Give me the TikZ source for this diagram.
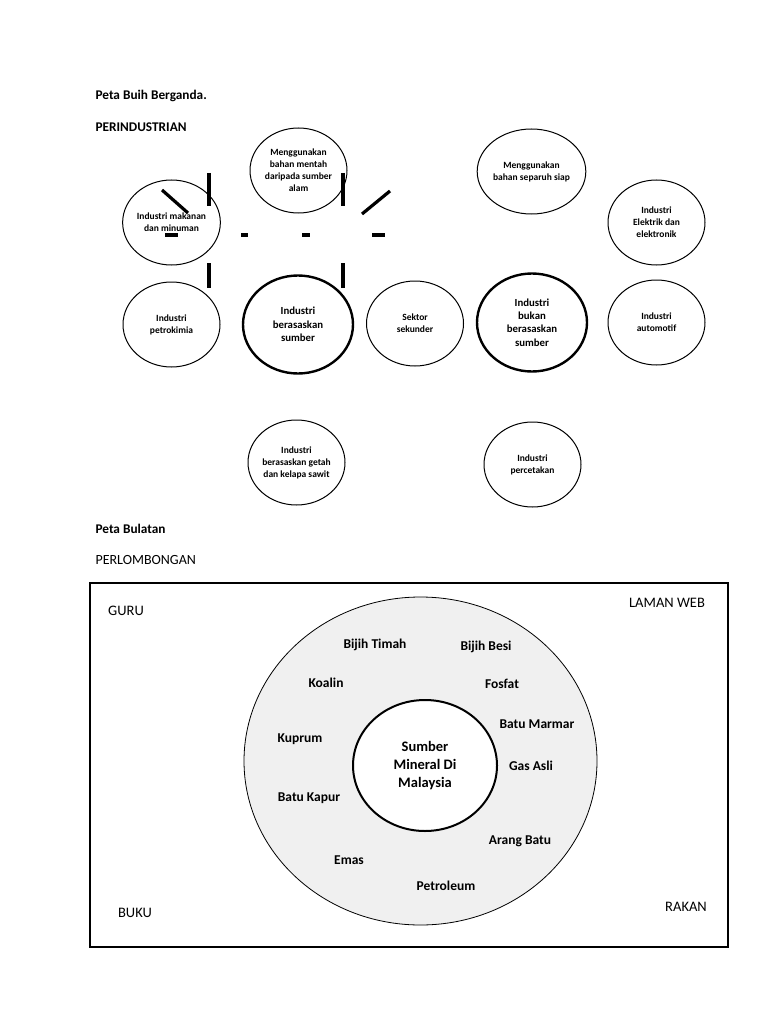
\documentclass[tikz,border=0pt]{standalone}
\usepackage{fontspec}
\setmainfont{Carlito}
\usetikzlibrary{shapes.geometric}
\begin{document}
\begin{tikzpicture}[x=1pt,y=-1pt,
  bub/.style={draw,ellipse,line width=1pt,inner sep=0pt,minimum width=97pt,minimum height=85pt,align=center,font=\fontsize{9.5}{12}\selectfont\bfseries},
  mainbub/.style={bub,line width=2.4pt,minimum width=110pt,minimum height=98pt,font=\fontsize{10.8}{13.3}\selectfont\bfseries},
  seg/.style={line width=3.2pt},
  head/.style={anchor=west,font=\fontsize{13.3}{15}\selectfont\bfseries},
  lbl/.style={font=\fontsize{13.5}{15}\selectfont\bfseries},
  corner/.style={font=\fontsize{14.5}{16}\selectfont}]
\useasboundingbox (0,0) rectangle (768,1024);
% headings
\node[head] (h1) at (92,96) {Peta Buih Berganda.};
\node[head] (h2) at (92,127) {PERINDUSTRIAN};
% bubbles
\node[bub] (makan) at (171.5,222.5) {Industri makanan\\dan minuman};
\node[bub] (mentah) at (298.5,170.5) {Menggunakan\\bahan mentah\\daripada sumber\\alam};
\node[bub] (separuh) at (531.5,171.5) {Menggunakan\\bahan separuh siap};
\node[bub] (elektrik) at (656.5,222.5) {Industri\\Elektrik dan\\elektronik};
\node[bub] (petro) at (171.5,324.5) {Industri\\petrokimia};
\node[mainbub] (berasas) at (298,324.5) {Industri\\berasaskan\\sumber};
\node[bub] (sektor) at (415,323.5) {Sektor\\sekunder};
\node[mainbub] (bukan) at (532,322.5) {Industri\\bukan\\berasaskan\\sumber};
\node[bub] (auto) at (656.5,322.5) {Industri\\automotif};
\node[bub] (getah) at (296.5,462.5) {Industri\\berasaskan getah\\dan kelapa sawit};
\node[bub] (cetak) at (532.5,464.5) {Industri\\percetakan};
% stray line segments
\draw[seg] (162,190) -- (188,213);
\draw[seg] (209,173) -- (209,206);
\draw[seg] (343,173) -- (343,206);
\draw[seg] (362,214) -- (390,191);
\draw[seg] (165,235) -- (178,235);
\draw[seg] (241,235) -- (248,235);
\draw[seg] (302,235) -- (310,235);
\draw[seg] (372,235) -- (385,235);
\draw[seg] (209,263) -- (209,288);
\draw[seg] (343,263) -- (343,288);
% circle map
\node[head] (h3) at (92,529) {Peta Bulatan};
\node[anchor=west,font=\fontsize{14}{16}\selectfont] (h4) at (92,560) {PERLOMBONGAN};
\draw[line width=2.4pt] (90,583) rectangle (728,947);
\node[draw,ellipse,line width=0.8pt,fill=black!6,minimum width=353pt,minimum height=328pt] (outer) at (420.5,761) {};
\node[draw,ellipse,line width=2pt,fill=white,minimum width=144pt,minimum height=131pt,align=center,font=\fontsize{14.5}{18}\selectfont\bfseries] (inner) at (425,765.5) {Sumber\\Mineral Di\\Malaysia};
\node[lbl] (m1) at (375,645) {Bijih Timah};
\node[lbl] (m2) at (486,647) {Bijih Besi};
\node[lbl] (m3) at (326,683) {Koalin};
\node[lbl] (m4) at (502,684) {Fosfat};
\node[lbl] (m5) at (537,724) {Batu Marmar};
\node[lbl] (m6) at (300,739) {Kuprum};
\node[lbl] (m7) at (531,766) {Gas Asli};
\node[lbl] (m8) at (309,798) {Batu Kapur};
\node[lbl] (m9) at (520,841) {Arang Batu};
\node[lbl] (m10) at (349,860) {Emas};
\node[lbl] (m11) at (446,886) {Petroleum};
\node[corner] (guru) at (126,611) {GURU};
\node[corner] (web) at (667,603) {LAMAN WEB};
\node[corner] (buku) at (135,913) {BUKU};
\node[corner] (rakan) at (686,907) {RAKAN};
\end{tikzpicture}
\end{document}
